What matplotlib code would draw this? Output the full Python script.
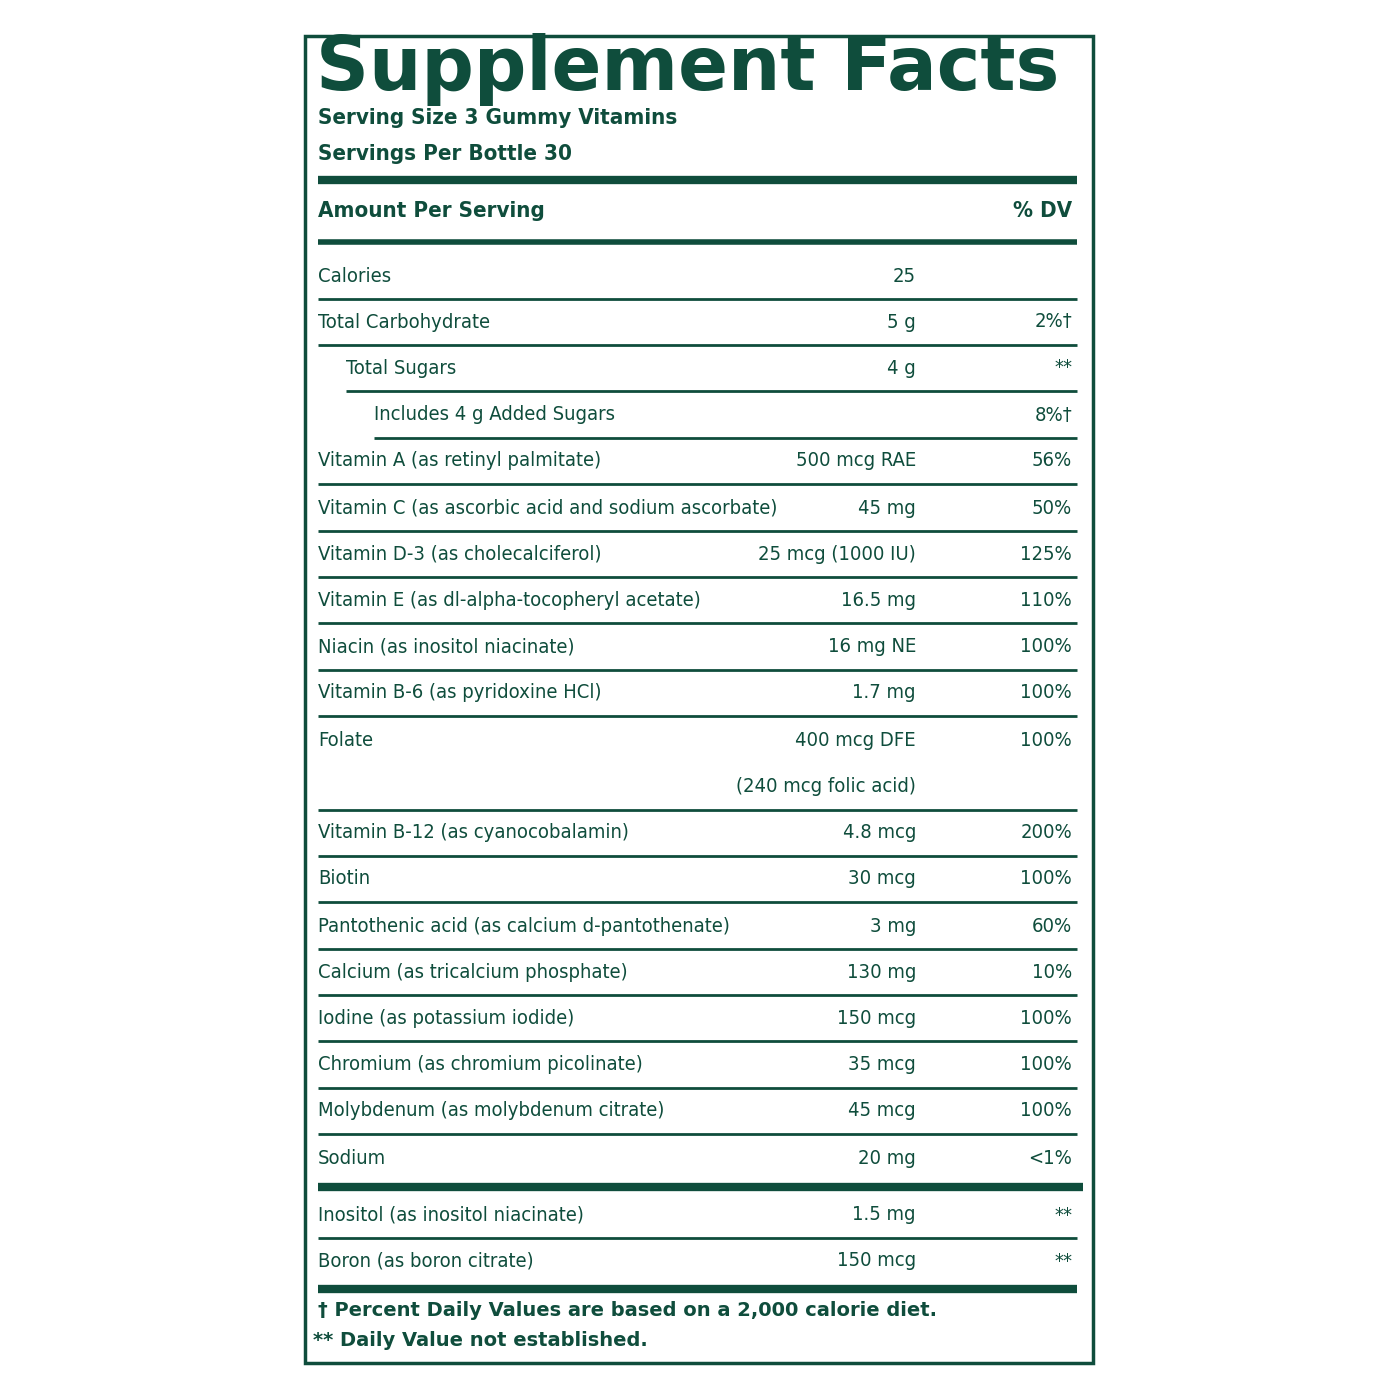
import matplotlib
matplotlib.use('Agg')
import matplotlib.pyplot as plt
from matplotlib.patches import Rectangle

GREEN = '#0f4d3c'
FAM = 'DejaVu Sans'
ROW_FS = 14.5

names = ['Calories', 'Total Carbohydrate', 'Total Sugars', 'Includes 4 g Added Sugars',
         'Vitamin A (as retinyl palmitate)', 'Vitamin C (as ascorbic acid and sodium ascorbate)',
         'Vitamin D-3 (as cholecalciferol)', 'Vitamin E (as dl-alpha-tocopheryl acetate)',
         'Niacin (as inositol niacinate)', 'Vitamin B-6 (as pyridoxine HCl)', 'Folate', '',
         'Vitamin B-12 (as cyanocobalamin)', 'Biotin', 'Pantothenic acid (as calcium d-pantothenate)',
         'Calcium (as tricalcium phosphate)', 'Iodine (as potassium iodide)',
         'Chromium (as chromium picolinate)', 'Molybdenum (as molybdenum citrate)', 'Sodium',
         'Inositol (as inositol niacinate)', 'Boron (as boron citrate)']
amounts = ['25', '5 g', '4 g', '', '500 mcg RAE', '45 mg', '25 mcg (1000 IU)', '16.5 mg',
           '16 mg NE', '1.7 mg', '400 mcg DFE', '(240 mcg folic acid)', '4.8 mcg', '30 mcg',
           '3 mg', '130 mg', '150 mcg', '35 mcg', '45 mcg', '20 mg', '1.5 mg', '150 mcg']
dvs = ['', '2%†', '**', '8%†', '56%', '50%', '125%', '110%', '100%', '100%', '100%', '',
       '200%', '100%', '60%', '10%', '100%', '100%', '100%', '<1%', '**', '**']
indents = [0, 0, 28, 56] + [0] * 18
row_y = [276, 322, 368, 415, 461, 508, 554, 600, 647, 693, 740, 787, 833, 879, 926, 972,
         1018, 1065, 1111, 1158, 1215, 1261]
# rows followed by a thin rule (index of row)
ruled = [0, 1, 2, 3, 4, 5, 6, 7, 8, 9, 11, 12, 13, 14, 15, 16, 17, 18, 20]

fig = plt.figure(figsize=(14, 14), dpi=100)
ax = fig.add_axes([0, 0, 1, 1])
ax.set_xlim(0, 1400)
ax.set_ylim(1400, 0)
ax.axis('off')

ax.add_patch(Rectangle((305, 36), 788, 1327, fill=False, ec=GREEN, lw=2.5))

ax.text(316, 70, 'Supplement Facts', color=GREEN, fontsize=53, fontweight='heavy',
        family=FAM, va='center', ha='left')
ax.text(318, 118, 'Serving Size 3 Gummy Vitamins', color=GREEN, fontsize=16,
        fontweight='bold', family=FAM, fontstretch='condensed', va='center')
ax.text(318, 154, 'Servings Per Bottle 30', color=GREEN, fontsize=16,
        fontweight='bold', family=FAM, fontstretch='condensed', va='center')
ax.plot([318, 1077], [180, 180], color=GREEN, lw=6, solid_capstyle='butt')
ax.text(318, 211, 'Amount Per Serving', color=GREEN, fontsize=16, fontweight='bold',
        family=FAM, fontstretch='condensed', va='center')
ax.text(1072, 211, '% DV', color=GREEN, fontsize=16, fontweight='bold',
        family=FAM, fontstretch='condensed', va='center', ha='right')
ax.plot([318, 1077], [242, 242], color=GREEN, lw=4, solid_capstyle='butt')

for i, (n, a, d, ind, y) in enumerate(zip(names, amounts, dvs, indents, row_y)):
    kw = dict(color=GREEN, fontsize=ROW_FS, family=FAM, fontstretch='condensed', va='center')
    ax.text(318 + ind, y, n, **kw)
    ax.text(916, y, a, ha='right', **kw)
    ax.text(1072, y, d, ha='right', **kw)
    if i in ruled:
        ax.plot([318 + ind, 1077], [y + 23, y + 23], color=GREEN, lw=2, solid_capstyle='butt')

ax.plot([318, 1083], [1187, 1187], color=GREEN, lw=6, solid_capstyle='butt')
ax.plot([318, 1077], [1289, 1289], color=GREEN, lw=6, solid_capstyle='butt')
ax.text(318, 1311, '† Percent Daily Values are based on a 2,000 calorie diet.', color=GREEN,
        fontsize=14, fontweight='bold', family=FAM, va='center')
ax.text(313, 1341, '** Daily Value not established.', color=GREEN,
        fontsize=14, fontweight='bold', family=FAM, va='center')

fig.savefig('out.png', dpi=100, facecolor='white')
